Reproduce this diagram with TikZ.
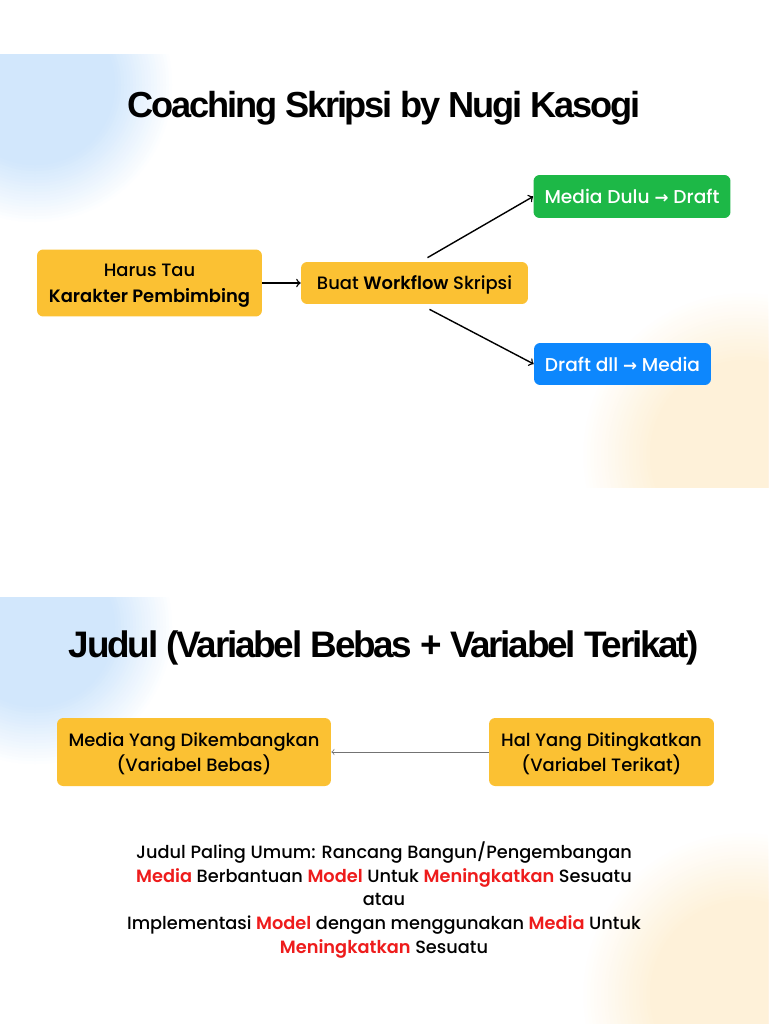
\documentclass[tikz,border=0pt]{standalone}
\usepackage{fontspec}
\setmainfont{Poppins Medium}[BoldFont={Poppins SemiBold}]
\newfontfamily\titlefont[LetterSpace=-6]{Liberation Sans}
\newfontfamily\arrowfont{DejaVu Sans}
\usetikzlibrary{calc}

\definecolor{boxyellow}{HTML}{FBC133}
\definecolor{boxgreen}{HTML}{1DB847}
\definecolor{boxblue}{HTML}{0D87FD}
\definecolor{hired}{HTML}{EE1C1C}
\definecolor{blobblue}{HTML}{D2E7FC}
\definecolor{bloborange}{HTML}{FEF1D9}

\newcommand{\hl}[1]{\textcolor{hired}{\bfseries #1}}
\newcommand{\rarr}{{\arrowfont\bfseries\fontsize{9.5}{10}\selectfont →}}

\begin{document}
\begin{tikzpicture}[x=0.02cm, y=-0.02cm, every node/.style={inner sep=0pt},
  title/.style={font=\titlefont\bfseries\fontsize{21}{25}\selectfont, anchor=base},
  ybox/.style={rectangle, rounded corners=3.5pt, fill=boxyellow, align=center, text depth=0pt, font=\fontsize{10.2}{14.6}\selectfont},
  cbox/.style={rectangle, rounded corners=3.5pt, text=white, text depth=0pt, font=\fontsize{10.6}{13}\selectfont},
  link/.style={->, line width=0.8pt, black},
  thin link/.style={->, line width=0.4pt, black!55}]

\useasboundingbox (0,0) rectangle (768,1024);
\fill[white] (0,0) rectangle (768,1024);

% background blobs
\begin{scope}
  \clip (0,55) rectangle (768,487);
  \foreach \i [evaluate=\i as \p using int(5*\i)] in {0,...,20} {
    \fill[blobblue!\p!white] (35,85) circle (140-3*\i);
    \fill[bloborange!\p!white] (745,455) circle (165-3.5*\i);
  }
\end{scope}
\begin{scope}
  \clip (0,597) rectangle (768,1024);
  \foreach \i [evaluate=\i as \p using int(5*\i)] in {0,...,20} {
    \fill[blobblue!\p!white] (35,627) circle (140-3*\i);
    \fill[bloborange!\p!white] (745,995) circle (165-3.5*\i);
  }
\end{scope}

% slide 1: workflow
\node[title, font=\titlefont\bfseries\fontsize{20.6}{25}\selectfont] (t1) at (384,117) {Coaching Skripsi by Nugi Kasogi};

\node[ybox, minimum width=4.5cm, minimum height=1.34cm] (harus) at (149.5,283) {Harus Tau\\ \textbf{Karakter Pembimbing}};
\node[ybox, minimum width=4.54cm, minimum height=0.84cm] (buat) at (414.5,283) {Buat \textbf{Workflow} Skripsi};
\node[cbox, fill=boxgreen, minimum width=3.94cm, minimum height=0.86cm] (dulu) at (632,196.5) {Media Dulu \rarr\ Draft};
\node[cbox, fill=boxblue, minimum width=3.54cm, minimum height=0.84cm] (draft) at (622.5,364) {Draft dll \rarr\ Media};

\draw[link] (harus) -- (buat);
\draw[link] ([shift={(13,-4)}]buat.north) -- (dulu.west);
\draw[link] ([shift={(15,5)}]buat.south) -- (draft.west);

% slide 2: judul
\node[title] (t2) at (384,657) {Judul (Variabel Bebas + Variabel Terikat)};

\node[ybox, minimum width=5.48cm, minimum height=1.36cm] (bebas) at (194,752) {Media Yang Dikembangkan\\ (Variabel Bebas)};
\node[ybox, minimum width=4.5cm, minimum height=1.36cm] (terikat) at (601.5,752) {Hal Yang Ditingkatkan\\ (Variabel Terikat)};

\draw[thin link] (terikat) -- (bebas);

\node[align=center, font=\fontsize{10.1}{13.6}\selectfont] (umum) at (384,900)
  {Judul Paling Umum: Rancang Bangun/Pengembangan\\
   \hl{Media} Berbantuan \hl{Model} Untuk \hl{Meningkatkan} Sesuatu\\
   atau\\
   Implementasi \hl{Model} dengan menggunakan \hl{Media} Untuk\\
   \hl{Meningkatkan} Sesuatu};

\end{tikzpicture}
\end{document}
